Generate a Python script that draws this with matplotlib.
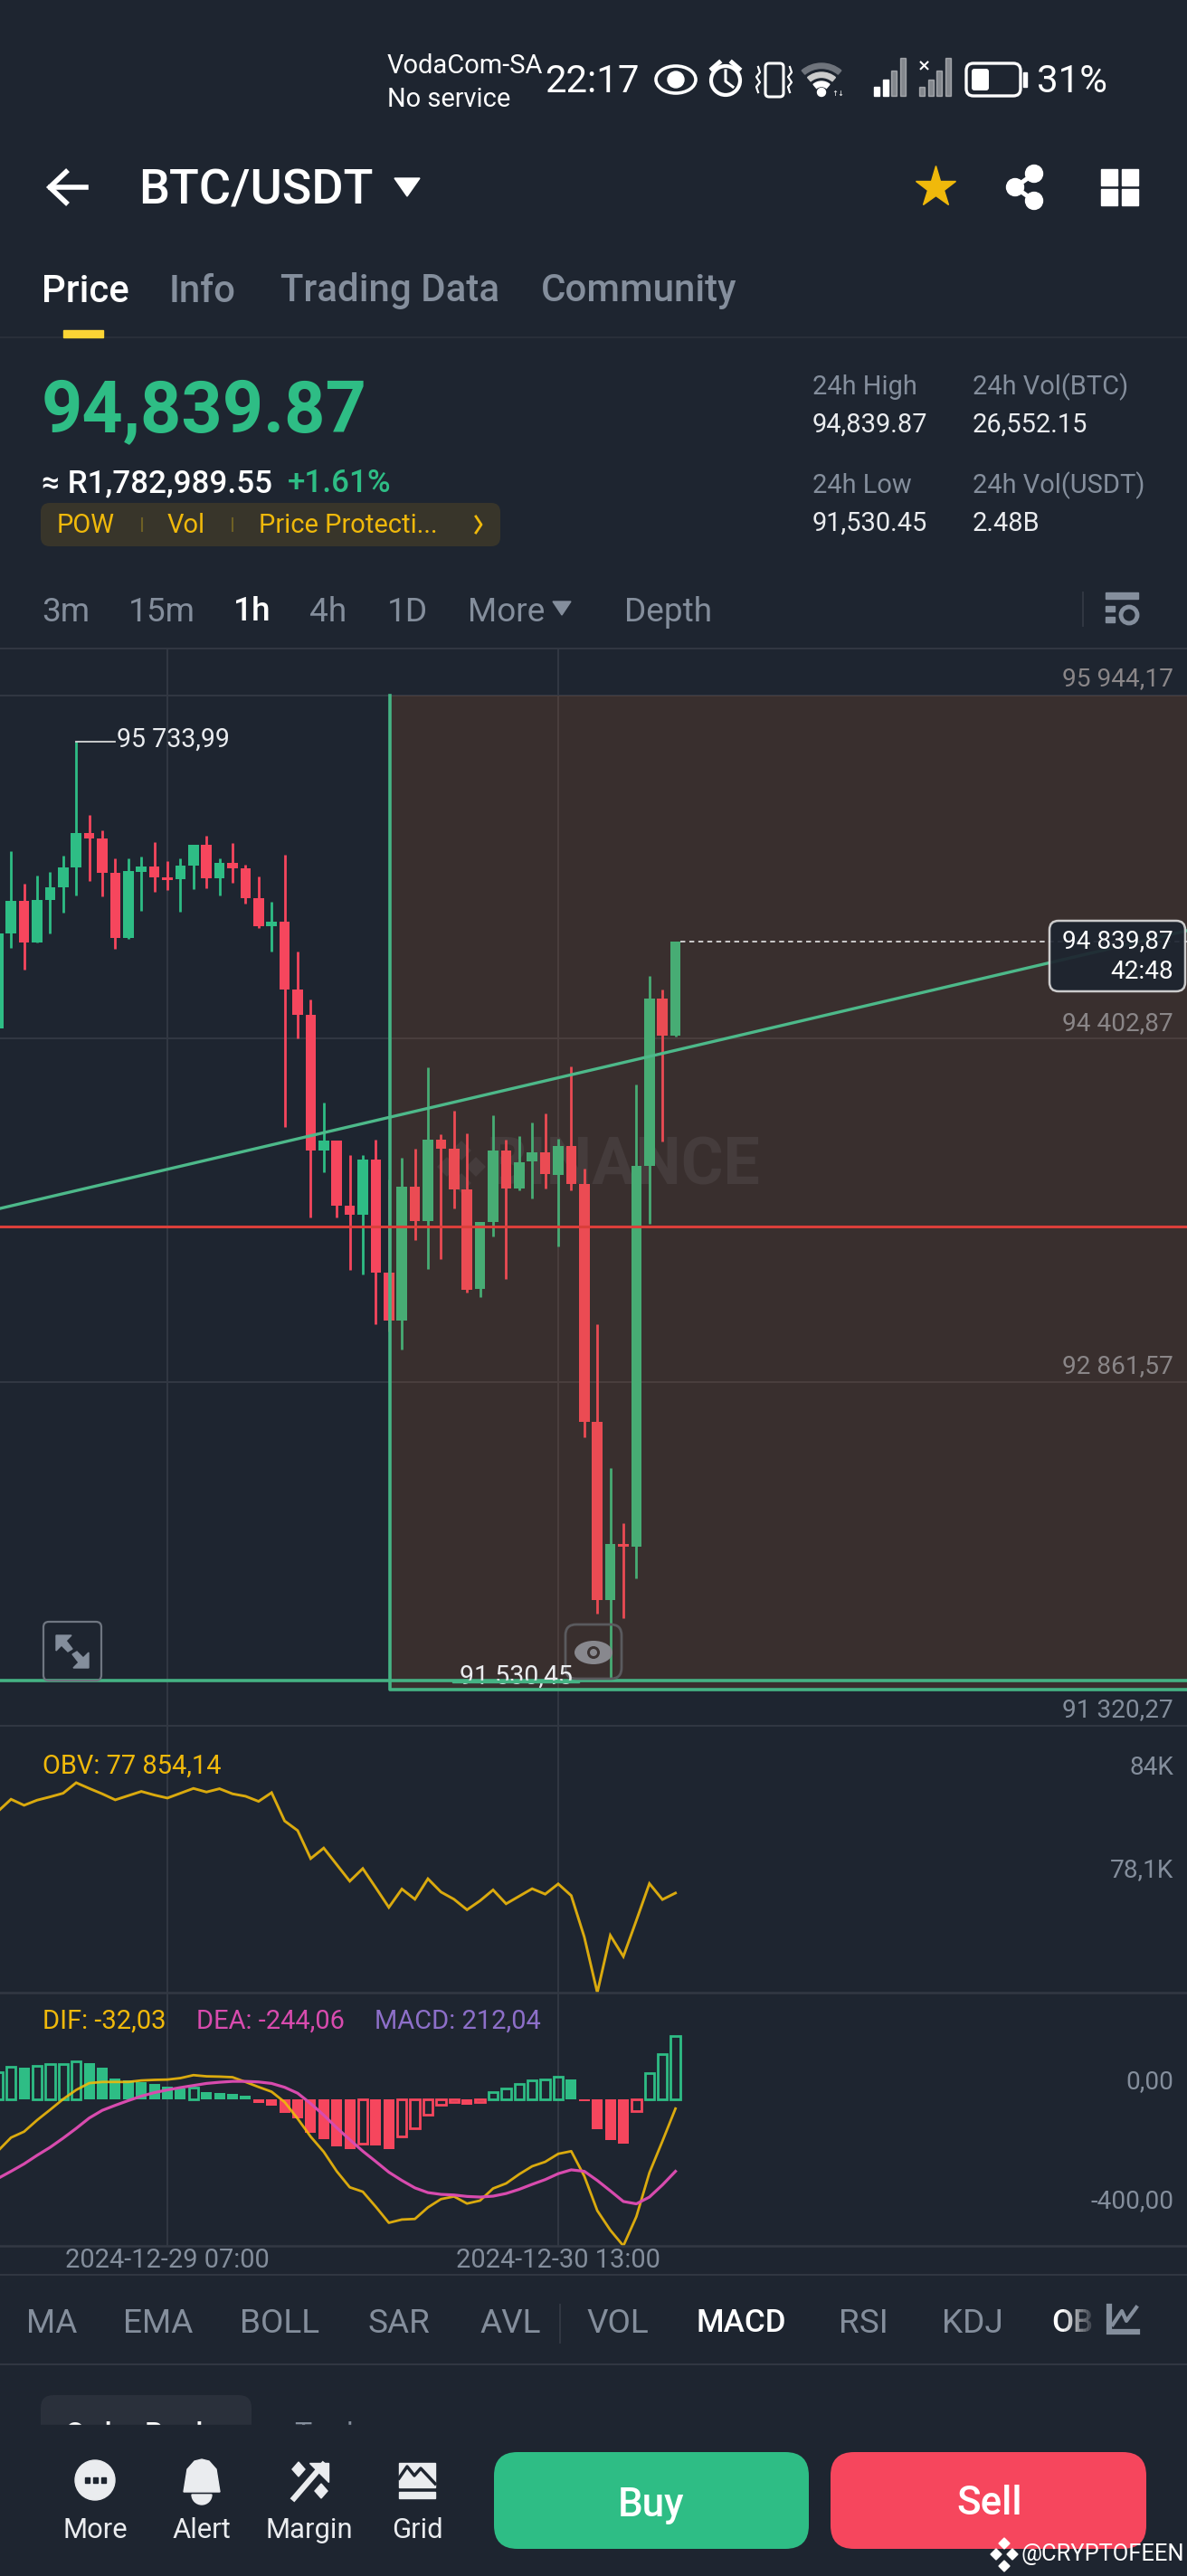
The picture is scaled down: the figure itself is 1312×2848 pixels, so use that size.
import matplotlib
matplotlib.use('Agg')
import matplotlib.pyplot as plt
from matplotlib.patches import Rectangle, FancyBboxPatch, Circle, Ellipse, Polygon, Wedge

W, H = 1312, 2848
BG = '#1E2530'
GRID = '#323843'
GREEN = '#2EBD85'
RED = '#F6465D'
YELLOW = '#F0B90B'
PINK = '#D84BAE'
PURPLE = '#8D6FC9'
GREY = '#848E9C'
FONT = ['Roboto', 'DejaVu Sans']

# hourly candles
opens = [94448, 94875, 95023, 94836, 95027, 95082, 95172, 95324, 95300, 95149, 94856, 95153, 95174, 95126,
         95119, 95181, 95272, 95123, 95191, 95168, 95033, 94909, 94929, 94623, 94511, 93902, 93944, 93652,
         93613, 93859, 93355, 93137, 93738, 93585, 93950, 93908, 93726, 93282, 93581, 93900, 93732, 93853,
         93892, 93793, 93922, 93752, 92683, 91886, 92134, 92124, 93833, 94584, 94417]
highs = [94875, 95245, 95100, 95136, 95150, 95223, 95733.99, 95408, 95339, 95211, 95211, 95220, 95284, 95200,
         95211, 95272, 95314, 95211, 95279, 95184, 95130, 95016, 95230, 94796, 94580, 94117, 93944, 93881,
         93881, 93951, 93773, 93869, 93908, 94273, 93974, 94079, 93980, 93581, 94061, 93950, 93966, 94025,
         94069, 93952, 94277, 93819, 93121, 92477, 92229, 94198, 94684, 94622, 94840]
lows = [94448, 94810, 94713, 94836, 94875, 94968, 95045, 95110, 95040, 94807, 94850, 94977, 95061, 95071,
        94971, 95075, 95077, 95045, 95101, 95008, 94901, 94796, 94006, 94404, 93600, 93802, 93602, 93367,
        93347, 93124, 93091, 93010, 93500, 93369, 93415, 93641, 93266, 93242, 93516, 93323, 93724, 93688,
        93732, 93470, 93722, 92614, 91823, 91530.45, 91803, 91983, 93571, 93940, 94411]
closes = [94875, 95023, 94836, 95027, 95082, 95172, 95324, 95300, 95149, 94856, 95155, 95174, 95126, 95114,
          95179, 95272, 95123, 95190, 95169, 95033, 94909, 94929, 94623, 94510, 93902, 93944, 93654, 93613,
          93859, 93355, 93137, 93738, 93585, 93950, 93908, 93726, 93278, 93581, 93900, 93732, 93849, 93892,
          93795, 93922, 93752, 92683, 91886, 92134, 92124, 93833, 94584, 94417, 94839.87]

obv = [82196, 82836, 82516, 82788, 82964, 83156, 83716, 83412, 83124, 82804, 83028, 83252, 83060, 82900,
       83156, 83412, 83220, 83396, 83124, 82996, 82724, 83188, 81684, 81172, 79684, 80244, 79364, 78484,
       79156, 78132, 77092, 78068, 77524, 78612, 77908, 77524, 76964, 77444, 78020, 77284, 77684, 78084,
       77796, 78340, 77716, 75524, 72564, 75604, 74484, 76404, 78356, 77508, 77854.14]

macd_hist = [92, 110, 105, 113, 117, 120, 127, 121, 105, 70, 64, 58, 50, 41, 36, 40, 25, 22, 17, 11, -12, -22,
             -46, -66, -115, -135, -160, -168, -150, -158, -168, -127, -100, -52, -19, -11, -19, -11, 25, 36,
             52, 64, 65, 75, 65, -8, -102, -137, -150, -41, 87, 153, 212.04]
dif = [-175, -130, -110, -71, -36, 0, 31, 54, 58, 58, 58, 63, 65, 66, 71, 81, 77, 76, 74, 58, 41, 25, -10, -66,
       -127, -178, -244, -298, -313, -364, -418, -407, -405, -366, -338, -329, -353, -343, -302, -285, -254,
       -227, -212, -185, -176, -260, -377, -443, -496, -397, -249, -142, -32.03]
dea = [-268, -244, -219, -190, -163, -132, -99, -64, -38, -21, -5, 10, 22, 31, 39, 46, 53, 57, 60, 60, 58, 53,
       40, 20, -15, -54, -97, -137, -176, -211, -247, -275, -300, -316, -322, -324, -329, -331, -328, -319,
       -305, -288, -272, -252, -239, -244, -275, -310, -346, -354, -331, -290, -244.06]

price_ticks = [95944.17, 94402.87, 92861.57, 91320.27]
price_tick_labels = ['95 944,17', '94 402,87', '92 861,57', '91 320,27']
date_candles = [13, 43]
date_labels = ['2024-12-29 07:00', '2024-12-30 13:00']
indicators = ['MA', 'EMA', 'BOLL', 'SAR', 'AVL', 'VOL', 'MACD', 'RSI', 'KDJ', 'OB']
timeframes = ['3m', '15m', '1h', '4h', '1D', 'More', 'Depth']
tabs = ['Price', 'Info', 'Trading Data', 'Community']

# drawn objects on the price panel
box_left, box_top, box_bottom = 30.08, 95944.17, 91483
support_level = 91525
resistance_level = 93559
trend_a, trend_b = (28.93, 94035), (80.6, 94742)

# candle 0 centre is at -2.2 px, candles are 14.4 px apart
CANDLE_STEP = 14.4
XLIM = (2.2 / CANDLE_STEP, (W + 2.2) / CANDLE_STEP)


def panel(top, bottom):
    a = fig.add_axes([0, 1 - bottom / H, 1, (bottom - top) / H])
    a.set_xlim(*XLIM)
    a.patch.set_alpha(0)
    a.axis('off')
    return a


def t(x, y, s, size, color='white', ha='left', weight='normal', **kw):
    return ui.text(x, y + 3, s, fontsize=size * 0.72, color=color, ha=ha, va='center', fontweight=weight,
                   family=FONT, **kw)


def round_box(x0, y0, x1, y1, r, **kw):
    p = FancyBboxPatch((x0 + r, y0 + r), x1 - x0 - 2 * r, y1 - y0 - 2 * r,
                       boxstyle='round,pad=%f,rounding_size=%f' % (r, r), **kw)
    ui.add_patch(p)
    return p


fig = plt.figure(figsize=(W / 100, H / 100), dpi=100, facecolor=BG)
x_idx = list(range(len(opens)))

# watermark goes under the panels
fig.text(538 / W, 1 - 1290 / H, 'BINANCE', fontsize=51.5, color='#2C3440', fontweight='bold', family=FONT,
         va='center', ha='left', zorder=-1)
for lx, ly in [(510, 1272), (494, 1290), (526, 1290), (510, 1308)]:
    fig.patches.append(Polygon([[lx / W, 1 - (ly - 10) / H], [(lx + 10) / W, 1 - ly / H], [lx / W, 1 - (ly + 10) / H],
                                [(lx - 10) / W, 1 - ly / H]], closed=True, color='#2C3440', transform=fig.transFigure,
                               zorder=-1))

# price panel
ax = panel(717, 1908)
top_price = 95944.17 + (768.6 - 717) * 4.056
ax.set_ylim(91320.27, top_price)
for p in price_ticks:
    ax.axhline(p, color=GRID, lw=1.4, zorder=1)
for c in date_candles:
    ax.axvline(c, color=GRID, lw=1.4, zorder=1)

bar_colors = [GREEN if c >= o else RED for o, c in zip(opens, closes)]
ax.vlines(x_idx, lows, highs, colors=bar_colors, lw=2.0, zorder=3)
ax.bar(x_idx, [abs(c - o) for o, c in zip(opens, closes)], bottom=[min(o, c) for o, c in zip(opens, closes)],
       width=0.81, color=bar_colors, zorder=3)

ax.add_patch(Rectangle((box_left, box_bottom), XLIM[1] - box_left, box_top - box_bottom,
                       facecolor='#B9622A', alpha=0.18, edgecolor='none', zorder=4))
ax.plot([box_left, box_left, XLIM[1]], [box_top, box_bottom, box_bottom], color='#45B384', lw=2.6, zorder=5)
ax.axhline(support_level, color='#45B384', lw=2.6, zorder=5)
ax.axhline(resistance_level, color='#DB3F3A', lw=2.2, zorder=5)
ax.axline(trend_a, trend_b, color='#4DB98A', lw=2.4, zorder=5)
ax.plot([len(opens) - 1 + 0.4, XLIM[1]], [closes[-1], closes[-1]], color='#D8D8D8', lw=1.3,
        dashes=(3, 2.5), zorder=5)
ax.plot([6, 9.0], [highs[6], highs[6]], color='#D8D8D8', lw=1.3, zorder=5)

# obv panel
ax_obv = panel(1908, 2203)
ax_obv.set_ylim(72564, 86740)
for c in date_candles:
    ax_obv.axvline(c, color=GRID, lw=1.4)
ax_obv.plot(x_idx, obv, color=YELLOW, lw=2.1, alpha=0.9, solid_joinstyle='miter', clip_on=False)

# macd panel
ax_m = panel(2203, 2483)
ax_m.set_ylim(-496, 360)
for c in date_candles:
    ax_m.axvline(c, color=GRID, lw=1.4)
for i, v in enumerate(macd_hist):
    col = GREEN if v >= 0 else RED
    rising = i == 0 or v > macd_hist[i - 1]
    if rising:
        ax_m.bar(i, v, width=0.72, facecolor='none', edgecolor=col, lw=2.0, zorder=2)
    else:
        ax_m.bar(i, v, width=0.84, color=col, zorder=2)
ax_m.plot(x_idx, dif, color=YELLOW, lw=2.0, alpha=0.9, zorder=3, clip_on=False)
ax_m.plot(x_idx, dea, color=PINK, lw=2.3, zorder=3)

# everything else sits on a pixel axes over the panels
ui = fig.add_axes([0, 0, 1, 1], zorder=10)
ui.set_xlim(0, W)
ui.set_ylim(H, 0)
ui.patch.set_alpha(0)
ui.axis('off')

for y in [373, 717, 1908, 2203, 2483, 2515, 2614]:
    ui.plot([0, W], [y, y], color=GRID if y != 373 else '#2A303A', lw=1.8 if y in (2203, 2483) else 1.4, zorder=1)

# status bar
t(428, 70, 'VodaCom-SA', 29)
t(428, 107, 'No service', 29)
t(602, 88, '22:17', 42)
ui.add_patch(Ellipse((747, 88), 44, 30, facecolor='none', edgecolor='white', lw=2.6))
ui.add_patch(Circle((747, 88), 9, color='white'))
ui.add_patch(Circle((802, 89), 16, facecolor='none', edgecolor='white', lw=3))
ui.plot([802, 802, 810], [78, 90, 96], color='white', lw=2.2)
ui.plot([787, 795], [76, 69], color='white', lw=3.5)
ui.plot([817, 809], [76, 69], color='white', lw=3.5)
round_box(846, 70, 866, 107, 4, facecolor='none', edgecolor='white', lw=2.2)
for sx in (838, 873):
    ui.plot([sx, sx + 2, sx - 2, sx + 2, sx - 2, sx], [74, 80, 85, 91, 96, 102], color='white', lw=1.6)
for r, col in zip((34, 24, 14), ('#6F747C', '#CCCCCC', 'white')):
    ui.add_patch(Wedge((908, 104), r, 230, 310, width=5.5, color=col))
ui.add_patch(Circle((908, 102), 4.5, color='white'))
ui.text(926, 103, '↑↓', fontsize=6, color='white', ha='center', va='center')
for sx, alphas in [(966, (1, 1, .45, .45)), (1016, (.45, .45, .45, .45))]:
    for k, h_ in enumerate((10, 18, 28, 42)):
        ui.add_patch(Rectangle((sx + k * 9.5, 106 - h_), 6, h_, color='white', alpha=alphas[k]))
ui.text(1021, 73, '×', fontsize=13, color='white', ha='center', va='center', fontweight='bold')
round_box(1068, 70, 1128, 106, 8, facecolor='none', edgecolor='white', lw=2.4)
round_box(1074, 76, 1093, 100, 3, facecolor='white', edgecolor='none')
ui.add_patch(Rectangle((1131, 80), 4, 16, color='white'))
t(1146, 88, '31%', 42)

# header
ui.plot([95, 56], [207, 207], color='white', lw=4)
ui.plot([73, 55, 73], [190, 207, 224], color='white', lw=4, solid_joinstyle='miter')
t(153, 208, 'BTC/USDT', 54, weight='medium')
ui.add_patch(Polygon([[436, 197], [464, 197], [450, 217]], closed=True, color='white'))
ui.plot([1034], [207], marker='*', ms=34, color=YELLOW, mec=YELLOW)
for a_, b_ in [((1143, 192), (1122, 207)), ((1122, 207), (1143, 222))]:
    ui.plot([a_[0], b_[0]], [a_[1], b_[1]], color='white', lw=3.6)
for c_ in [(1122, 207), (1143, 192), (1143, 222)]:
    ui.add_patch(Circle(c_, 9.5, color='white'))
for gx in (1217, 1240):
    for gy in (187, 209):
        ui.add_patch(Rectangle((gx, gy), 18, 18, color='white'))

# tabs
for s, x, c in zip(tabs, [46, 187, 310, 598], ['white', GREY, GREY, GREY]):
    t(x, 319, s, 42, color=c, weight='medium')
ui.add_patch(Rectangle((70, 365), 44, 8, color='#FCD535'))

# ticker
t(46, 453, '94,839.87', 79, color=GREEN, weight='bold')
t(46, 532, '≈ R1,782,989.55', 35, weight='medium')
t(318, 532, '+1.61%', 35, color=GREEN, weight='medium')
round_box(45, 556, 553, 604, 10, facecolor='#38352A', edgecolor='none')
t(63, 578, 'POW', 29, color=YELLOW)
t(185, 578, 'Vol', 29, color=YELLOW)
t(286, 578, 'Price Protecti...', 29, color=YELLOW)
ui.plot([157, 157], [573, 587], color='#6E6025', lw=1.5)
ui.plot([257, 257], [573, 587], color='#6E6025', lw=1.5)
ui.plot([526, 532, 526], [571, 580, 589], color=YELLOW, lw=2)
for x, a_, b_, c_, d_ in [(898, '24h High', '94,839.87', '24h Low', '91,530.45'),
                          (1075, '24h Vol(BTC)', '26,552.15', '24h Vol(USDT)', '2.48B')]:
    t(x, 425, a_, 29, color=GREY)
    t(x, 467, b_, 29, color='#EAECEF')
    t(x, 534, c_, 29, color=GREY)
    t(x, 576, d_, 29, color='#EAECEF')

# timeframes
for s, x in zip(timeframes, [46, 142, 258, 342, 428, 517, 690]):
    t(x, 674, s, 37, color='white' if s == '1h' else GREY, weight='medium' if s == '1h' else 'normal')
ui.add_patch(Polygon([[611, 665], [631, 665], [621, 680]], closed=True, color=GREY))
ui.plot([1197, 1197], [655, 692], color=GRID, lw=1.4)
ui.add_patch(Rectangle((1222, 655), 36, 7, color=GREY))
ui.add_patch(Rectangle((1222, 670), 10, 6, color=GREY))
ui.add_patch(Rectangle((1222, 682), 10, 6, color=GREY))
ui.add_patch(Circle((1248, 680), 9, facecolor='none', edgecolor=GREY, lw=3.5))

# price axis labels
for s, y in zip(price_tick_labels, [748, 1129, 1508, 1888]):
    t(1297, y, s, 28, color='#8A8688' if y < 1880 else GREY, ha='right')
t(129, 815, '95 733,99', 28.5, color='#EAECEF')
t(508, 1851, '91 530,45', 28.5, color='#EAECEF')
ui.add_patch(Rectangle((500, 1858), 140, 1.6, color='#45B384', zorder=4))

# last price bubble
round_box(1160, 1018, 1310, 1096, 10, facecolor=BG, edgecolor='#D8D8D8', lw=1.8, alpha=0.93)
t(1297, 1038, '94 839,87', 28, ha='right')
t(1297, 1071, '42:48', 28, ha='right')

# chart buttons
round_box(48, 1793, 112, 1858, 6, facecolor='none', edgecolor='#6F7681', lw=1.6)
ui.add_patch(Polygon([[62, 1808], [79, 1808], [73, 1814], [80, 1823], [75, 1826], [68, 1819], [62, 1825]], closed=True, color=GREY))
ui.add_patch(Polygon([[98, 1844], [81, 1844], [87, 1838], [80, 1829], [85, 1826], [92, 1833], [98, 1827]], closed=True, color=GREY))
round_box(625, 1796, 687, 1856, 12, facecolor='none', edgecolor='#5A5A5E', lw=2)
ui.add_patch(Ellipse((656, 1827), 42, 26, facecolor='#88888E', edgecolor='none'))
ui.add_patch(Circle((656, 1827), 7, facecolor='#3B3333', edgecolor='none'))
ui.add_patch(Circle((656, 1827), 4, facecolor='#88888E', edgecolor='none'))

# indicator labels
t(47, 1950, 'OBV: 77 854,14', 29, color=YELLOW)
t(1297, 1951, '84K', 28, color=GREY, ha='right')
t(1297, 2065, '78,1K', 28, color=GREY, ha='right')
t(47, 2232, 'DIF: -32,03', 29, color=YELLOW)
t(217, 2232, 'DEA: -244,06', 29, color=PINK)
t(414, 2232, 'MACD: 212,04', 29, color=PURPLE)
t(1297, 2299, '0,00', 28, color=GREY, ha='right')
t(1297, 2431, '-400,00', 28, color=GREY, ha='right')
for c, s in zip(date_candles, date_labels):
    t(-2.2 + c * CANDLE_STEP, 2496, s, 29, color=GREY, ha='center')

# indicator tabs
for s, x in zip(indicators, [29, 136, 265, 407, 530, 648, 770, 927, 1041, 1162]):
    on = s in ('MACD', 'OB')
    t(x, 2566, s, 35 if on else 37, color='white' if on else GREY, weight='medium' if on else 'normal')
ui.plot([619, 619], [2548, 2590], color=GRID, lw=1.4)
# the tab strip fades out under the icon
for k in range(12):
    ui.add_patch(Rectangle((1176 + k * 3, 2540), 3.2, 50, color=BG, alpha=min(1, 0.1 + k * 0.08), lw=0, zorder=4))
ui.add_patch(Rectangle((1212, 2540), 60, 50, color=BG, zorder=4))
ui.plot([1226, 1226, 1257], [2550, 2578, 2578], color=GREY, lw=4.5, solid_joinstyle='miter', zorder=5)
ui.plot([1230, 1240, 1245, 1256], [2570, 2555, 2566, 2551], color=GREY, lw=3, zorder=5)

# order book strip, cut by the bottom bar
round_box(45, 2648, 278, 2720, 14, facecolor='#2A303B', edgecolor='none', zorder=1)
t(72, 2689, 'Order Book', 32, weight='medium', zorder=2)
t(325, 2689, 'Trades', 32, color=GREY, zorder=2)
ui.add_patch(Rectangle((0, 2681), W, H - 2681, color=BG, zorder=3))

# bottom bar
for s, x in zip(['More', 'Alert', 'Margin', 'Grid'], [105, 223, 342, 461]):
    t(x, 2794, s, 31, ha='center', color='#EAECEF', zorder=5)
ui.add_patch(Circle((105, 2742), 22, color='#EAECEF', zorder=5))
for dx in (-9, 0, 9):
    ui.add_patch(Rectangle((105 + dx - 2.5, 2739), 5, 6, color=BG, zorder=6))
ui.add_patch(Polygon([[203, 2755], [207, 2730], [215, 2721], [223, 2719], [231, 2721], [239, 2730], [243, 2755]],
                     closed=True, color='#EAECEF', zorder=5))
ui.add_patch(Wedge((223, 2758), 11, 0, 180, color='#EAECEF', zorder=5))
ui.plot([325, 357], [2762, 2725], color='#EAECEF', lw=4.5, zorder=5)
ui.add_patch(Polygon([[342, 2723], [363, 2723], [363, 2744]], closed=True, color='#EAECEF', zorder=5))
ui.add_patch(Polygon([[330, 2722], [337, 2730], [330, 2738], [323, 2730]], closed=True, color='#EAECEF', zorder=5))
ui.add_patch(Polygon([[355, 2746], [362, 2754], [355, 2762], [348, 2754]], closed=True, color='#EAECEF', zorder=5))
ui.add_patch(Rectangle((441, 2723), 40, 27, color='#EAECEF', zorder=5))
ui.plot([441, 450, 458, 465, 481], [2740, 2727, 2737, 2729, 2746], color=BG, lw=2.5, zorder=6)
ui.add_patch(Rectangle((441, 2755), 40, 7, color='#EAECEF', zorder=5))
round_box(546, 2711, 894, 2818, 26, facecolor=GREEN, edgecolor='none', zorder=5)
round_box(918, 2711, 1267, 2818, 26, facecolor=RED, edgecolor='none', zorder=5)
t(719, 2767, 'Buy', 44, ha='center', weight='medium', zorder=6)
t(1094, 2765, 'Sell', 44, ha='center', weight='medium', zorder=6)
t(1128, 2821, '@CRYPTOFEEN', 25.5, zorder=7)
for lx, ly in [(1110, 2812), (1101, 2824), (1119, 2824), (1110, 2837)]:
    ui.add_patch(Polygon([[lx, ly - 6], [lx + 6, ly], [lx, ly + 6], [lx - 6, ly]], closed=True, color='white', zorder=7))

fig.savefig('out.png', dpi=100, facecolor=BG)
